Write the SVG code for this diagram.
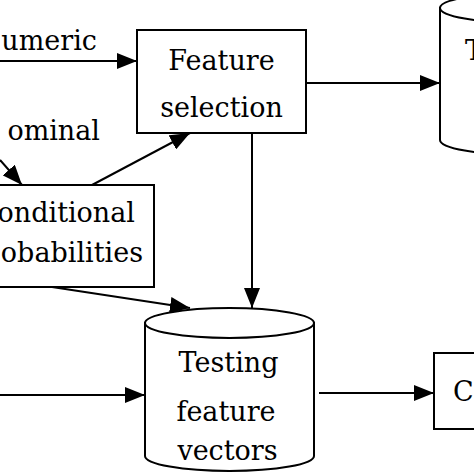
<svg xmlns="http://www.w3.org/2000/svg" width="474" height="474" viewBox="0 0 474 474">
<defs>
<marker id="ah" markerUnits="userSpaceOnUse" markerWidth="20" markerHeight="16" viewBox="0 0 20 16" refX="20" refY="8" orient="auto">
<path d="M0,0 L20,8 L0,16 Z" fill="#000"/>
</marker>
<style>
.box{fill:#fff;stroke:#000;stroke-width:2}
.cyl{fill:#fff;stroke:#000;stroke-width:2}
.lbl{font-family:"DejaVu Serif","Liberation Serif",serif;font-size:27px;fill:#000}
.mid{text-anchor:middle}
.end{text-anchor:end}
.edge{fill:none;stroke:#000;stroke-width:2;marker-end:url(#ah)}
</style>
</defs>
<rect width="474" height="474" fill="#fff"/>
<g id="connectors">
<path class="edge" d="M0,61 H137"/>
<path class="edge" d="M0,160 L22,185"/>
<path class="edge" d="M92,185 L190,133"/>
<path class="edge" d="M306,83 H440"/>
<path class="edge" d="M252,133 V308"/>
<path class="edge" d="M52,287 L190,308"/>
<path class="edge" d="M0,395 H145"/>
<path class="edge" d="M319,393 H434"/>
</g>
<g id="numeric">
<text class="lbl end" x="97" y="50">umeric</text>
</g>
<g id="nominal">
<text class="lbl end" x="100" y="140">ominal</text>
</g>
<g id="feature-selection">
<rect class="box" x="137" y="30" width="169" height="103"/>
<text class="lbl mid" x="221.5" y="70">Feature</text>
<text class="lbl mid" x="221.5" y="117">selection</text>
</g>
<g id="conditional-probabilities">
<rect class="box" x="-20" y="185" width="174" height="102"/>
<text class="lbl end" x="135" y="222">onditional</text>
<text class="lbl end" x="143" y="262">obabilities</text>
</g>
<g id="training-cylinder">
<path class="cyl" d="M440,8 V140 A84.5,15 0 0 0 609,140 V8 Z"/>
<ellipse class="cyl" cx="524.5" cy="8" rx="84.5" ry="15"/>
<text class="lbl" x="465" y="60">T</text>
</g>
<g id="testing-cylinder">
<path class="cyl" d="M145,323 V456 A84.5,15 0 0 0 314,456 V323 Z"/>
<ellipse class="cyl" cx="229.5" cy="323" rx="84.5" ry="15"/>
<text class="lbl mid" x="228.5" y="372">Testing</text>
<text class="lbl mid" x="226" y="421">feature</text>
<text class="lbl mid" x="227.5" y="460">vectors</text>
</g>
<g id="classifier">
<rect class="box" x="434" y="353" width="60" height="76"/>
<text class="lbl" x="453" y="401">C</text>
</g>
</svg>
